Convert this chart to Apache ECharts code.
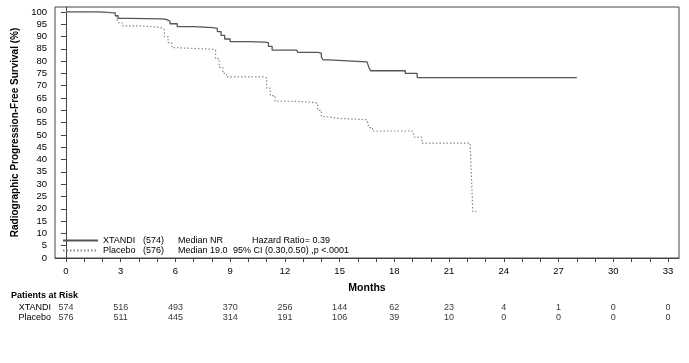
<!DOCTYPE html>
<html>
<head>
<meta charset="utf-8">
<script src="https://cdn.jsdelivr.net/npm/echarts@6/dist/echarts.min.js"></script>
<style>html,body{margin:0;padding:0;background:#fff}#c{width:689px;height:363px}</style>
</head>
<body>
<div id="c"></div>
<script>
// ---- data ----
const seriesNames = ['XTANDI', 'Placebo'];
const legendN = ['(574)', '(576)'];
const legendMedian = ['Median NR', 'Median 19.0'];
const legendStats = ['Hazard Ratio= 0.39', '95% CI (0.30,0.50) ,p <.0001'];

const xtandiCurve = [
  [0,100],[1.8,99.6],[2.7,98.5],[2.85,97.4],[3.5,97.2],[5.25,97.0],[5.5,96.2],[5.7,95.2],[6.1,94.0],
  [7.0,93.6],[8.06,93.3],[8.3,92.0],[8.5,90.5],[8.7,89.0],[9.0,87.9],[10.0,87.7],[10.9,87.5],
  [11.1,86.0],[11.3,84.5],[12.65,84.2],[12.7,83.6],[13.8,83.3],[14.0,81.5],[14.1,80.5],[14.4,79.7],
  [16.5,79.0],[16.6,77.5],[16.7,76.1],[18.6,75.0],[19.25,73.3],[28.0,73.3]
];
const placeboCurve = [
  [0,100],[1.5,99.7],[2.7,99.3],[2.8,97.0],[2.9,95.5],[3.1,94.3],[4.0,94.0],[4.8,93.5],[5.26,92.8],
  [5.4,90.0],[5.6,87.5],[5.8,85.5],[6.0,85.0],[7.5,84.8],[8.06,84.5],[8.2,81.0],[8.4,77.5],[8.6,75.0],
  [8.8,73.6],[10.8,73.2],[11.0,69.0],[11.2,66.0],[11.46,63.7],[12.5,63.2],[13.65,62.8],[13.8,60.0],
  [14.0,57.5],[14.2,56.7],[15.0,56.2],[16.5,55.5],[16.6,53.0],[16.8,51.6],[19.0,51.3],[19.1,49.1],
  [19.5,46.7],[22.15,46.7],[22.2,37.4],[22.3,18.8],[22.55,18.8]
];

const xTickValues = [0,1,2,3,4,5,6,7,8,9,10,11,12,13,14,15,16,17,18,19,20,21,22,23,24,25,26,27,28,29,30,31,32,33];
const xLabelValues = [0,3,6,9,12,15,18,21,24,27,30,33];
const yTickValues = [0,5,10,15,20,25,30,35,40,45,50,55,60,65,70,75,80,85,90,95,100];

const riskMonths = [0,3,6,9,12,15,18,21,24,27,30,33];
const riskXtandi = [574,516,493,370,256,144,62,23,4,1,0,0];
const riskPlacebo = [576,511,445,314,191,106,39,10,0,0,0,0];

// ---- chart ----
const font = 'Liberation Sans, Arial, sans-serif';
const chart = echarts.init(document.getElementById('c'));

const riskData = [];
riskMonths.forEach((m, i) => {
  riskData.push([m, 'XTANDI', riskXtandi[i]]);
  riskData.push([m, 'Placebo', riskPlacebo[i]]);
});

chart.setOption({
  animation: false,
  textStyle: { fontFamily: font },
  title: {
    text: 'Patients at Risk', left: 6, top: 286,
    textStyle: { fontSize: 9, fontWeight: 'bold', color: '#000', fontFamily: font }
  },
  grid: [
    { left: 55, right: 10, top: 7, bottom: 105, show: true, borderColor: '#444', borderWidth: 1 },
    { left: 55, right: 10, top: 303, height: 20 }
  ],
  legend: {
    orient: 'vertical', left: 57, top: 231, itemWidth: 35, itemHeight: 10, itemGap: 1,
    itemStyle: { opacity: 0 },
    data: seriesNames,
    formatter: function (name) {
      const i = seriesNames.indexOf(name);
      return '{a|' + name + '}{b|' + legendN[i] + '}{c|' + legendMedian[i] + '}{d|' + legendStats[i] + '}';
    },
    textStyle: {
      fontSize: 9, color: '#000', fontFamily: font,
      rich: {
        a: { width: 40, fontSize: 9, fontFamily: font },
        b: { width: 35, fontSize: 9, fontFamily: font },
        c: { width: 57, fontSize: 9, fontFamily: font },
        d: { width: 112, align: 'center', fontSize: 9, fontFamily: font }
      }
    }
  },
  xAxis: [
    {
      type: 'value', gridIndex: 0, min: -0.6, max: 33.6,
      name: 'Months', nameLocation: 'middle', nameGap: 25,
      nameTextStyle: { fontSize: 10.5, fontWeight: 'bold', color: '#000', fontFamily: font },
      axisLine: { show: true, lineStyle: { color: '#444' } },
      axisTick: { show: true, length: 4, customValues: xTickValues, lineStyle: { color: '#444' } },
      axisLabel: { customValues: xLabelValues, fontSize: 9.5, color: '#000', margin: 8 },
      splitLine: { show: false }
    },
    {
      type: 'value', gridIndex: 1, min: -0.6, max: 33.6, show: false
    }
  ],
  yAxis: [
    {
      type: 'value', gridIndex: 0, min: 0, max: 102,
      name: 'Radiographic Progression-Free Survival (%)', nameLocation: 'middle', nameGap: 34,
      nameTextStyle: { fontSize: 10, fontWeight: 'bold', color: '#000', fontFamily: font },
      axisLine: { show: true, lineStyle: { color: '#444' } },
      axisTick: { show: true, length: 5, customValues: yTickValues, lineStyle: { color: '#444' } },
      axisLabel: { customValues: yTickValues, fontSize: 9.5, color: '#000', margin: 8 },
      splitLine: { show: false }
    },
    {
      type: 'category', gridIndex: 1, data: ['XTANDI', 'Placebo'], inverse: true,
      axisLine: { show: false }, axisTick: { show: false },
      axisLabel: { interval: 0, fontSize: 9, color: '#000', margin: 4, fontFamily: font }
    }
  ],
  series: [
    {
      name: 'XTANDI', type: 'line', step: 'end', data: xtandiCurve,
      xAxisIndex: 0, yAxisIndex: 0, symbol: 'none',
      lineStyle: { color: '#555', width: 1.3, type: 'solid' }, itemStyle: { color: '#555' }
    },
    {
      name: 'Placebo', type: 'line', step: 'end', data: placeboCurve,
      xAxisIndex: 0, yAxisIndex: 0, symbol: 'none',
      lineStyle: { color: '#888', width: 1.2, type: [1.5, 2] }, itemStyle: { color: '#888' }
    },
    {
      type: 'scatter', xAxisIndex: 1, yAxisIndex: 1, data: riskData, symbolSize: 0,
      silent: true,
      label: {
        show: true, position: 'inside', color: '#000', fontSize: 9, fontFamily: font,
        formatter: p => String(p.value[2])
      }
    }
  ]
});
</script>
</body>
</html>
